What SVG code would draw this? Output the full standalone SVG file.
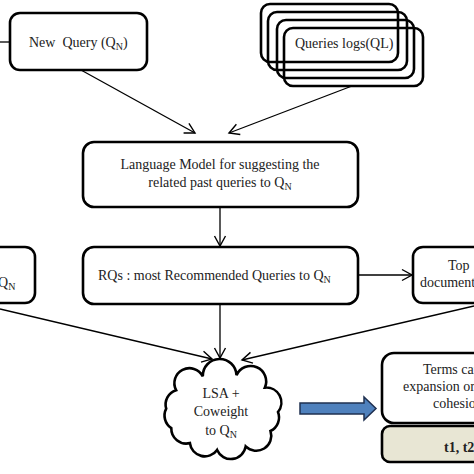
<svg xmlns="http://www.w3.org/2000/svg" width="474" height="474" viewBox="0 0 474 474">
<style>
.box{fill:#fff;stroke:#000;stroke-width:2.6}
.stk{fill:none;stroke:#000;stroke-width:2.6}
.t{font-family:"Liberation Serif","Times New Roman",serif;font-size:14px;fill:#222}
.c{text-anchor:middle}
.sub{font-size:10px}
.ln{fill:none;stroke:#000;stroke-width:1.3}
</style>
<defs>
<marker id="ah" markerUnits="userSpaceOnUse" markerWidth="14" markerHeight="14" refX="11" refY="6" orient="auto" viewBox="0 0 14 12">
<path d="M1,0.5 L11,6 L1,11.5" fill="none" stroke="#000" stroke-width="1.4"/>
</marker>
</defs>
<rect width="474" height="474" fill="#fff"/>

<g id="connectors">
<line class="ln" x1="0" y1="42" x2="10" y2="42"/>
<line class="ln" x1="81" y1="70" x2="195" y2="133" marker-end="url(#ah)"/>
<line class="ln" x1="352" y1="86" x2="229" y2="133" marker-end="url(#ah)"/>
<line class="ln" x1="220" y1="207" x2="220" y2="246" marker-end="url(#ah)"/>
<line class="ln" x1="358" y1="275" x2="412" y2="275" marker-end="url(#ah)"/>
<line class="ln" x1="220" y1="304" x2="220" y2="358" marker-end="url(#ah)"/>
<line class="ln" x1="0" y1="309" x2="212" y2="359" marker-end="url(#ah)"/>
<line class="ln" x1="474" y1="306" x2="242" y2="360" marker-end="url(#ah)"/>
<path d="M300,403 H364 V397 L376,408.5 L364,420 V414 H300 Z" fill="#4F81BD" stroke="#1F3050" stroke-width="1.5"/>
</g>

<g id="new-query">
<rect class="box" x="10" y="13" width="137" height="57" rx="10"/>
<text class="t" x="29" y="47" xml:space="preserve">New  Query (Q<tspan class="sub" dy="3">N</tspan><tspan dy="-3">)</tspan></text>
</g>

<g id="queries-logs">
<rect class="stk" x="261" y="4" width="137" height="58" rx="9"/>
<rect class="stk" x="268" y="12" width="139" height="58" rx="9"/>
<rect class="stk" x="277" y="20" width="137" height="58" rx="9"/>
<rect class="stk" x="284" y="28" width="139" height="58" rx="9"/>
<text class="t" x="295" y="48">Queries logs(QL)</text>
</g>

<g id="language-model">
<rect class="box" x="83" y="142" width="275" height="65" rx="11"/>
<text class="t c" x="220" y="169">Language Model for suggesting the</text>
<text class="t c" x="220" y="187">related past queries to Q<tspan class="sub" dy="3">N</tspan></text>
</g>

<g id="rqs">
<rect class="box" x="83" y="247" width="275" height="57" rx="11"/>
<text class="t" x="98" y="280">RQs : most Recommended Queries to Q<tspan class="sub" dy="3">N</tspan></text>
</g>

<g id="left-box">
<rect class="box" x="-40" y="247" width="75" height="56" rx="10"/>
<text class="t" x="-2" y="287">Q<tspan class="sub" dy="3">N</tspan></text>
</g>

<g id="top-documents">
<rect class="box" x="413" y="247" width="100" height="56" rx="10"/>
<text class="t" x="448" y="270">Top</text>
<text class="t" x="420" y="287">documents</text>
</g>

<g id="lsa-cloud">
<path class="box" d="M278,412 A15,15 0 0 1 270.5,431 A15,15 0 0 1 245.7,446.4 A15,15 0 0 1 217.1,449.9 A15,15 0 0 1 189.9,443.1 A15,15 0 0 1 171.3,428.1 A15,15 0 0 1 166.2,408.7 A15,15 0 0 1 176.1,390.2 A15,15 0 0 1 202.8,376.3 A15,15 0 0 1 236.5,375.3 A15,15 0 0 1 264.9,387.6 A15,15 0 0 1 278,412 Z"/>
<text class="t c" x="221" y="398">LSA +</text>
<text class="t c" x="221" y="416">Coweight</text>
<text class="t c" x="221" y="435">to Q<tspan class="sub" dy="3">N</tspan></text>
</g>

<g id="terms">
<rect class="box" x="382" y="353" width="160" height="70" rx="12"/>
<text class="t" x="423" y="374">Terms candidates</text>
<text class="t" x="403" y="391">expansion ordered by</text>
<text class="t" x="433" y="408">cohesion</text>
</g>

<g id="t-list">
<rect x="382" y="426" width="160" height="36" rx="8" fill="#E8E6D4" stroke="#000" stroke-width="2.6"/>
<text class="t" x="444" y="452" font-weight="bold">t1, t2, ...</text>
</g>
</svg>
